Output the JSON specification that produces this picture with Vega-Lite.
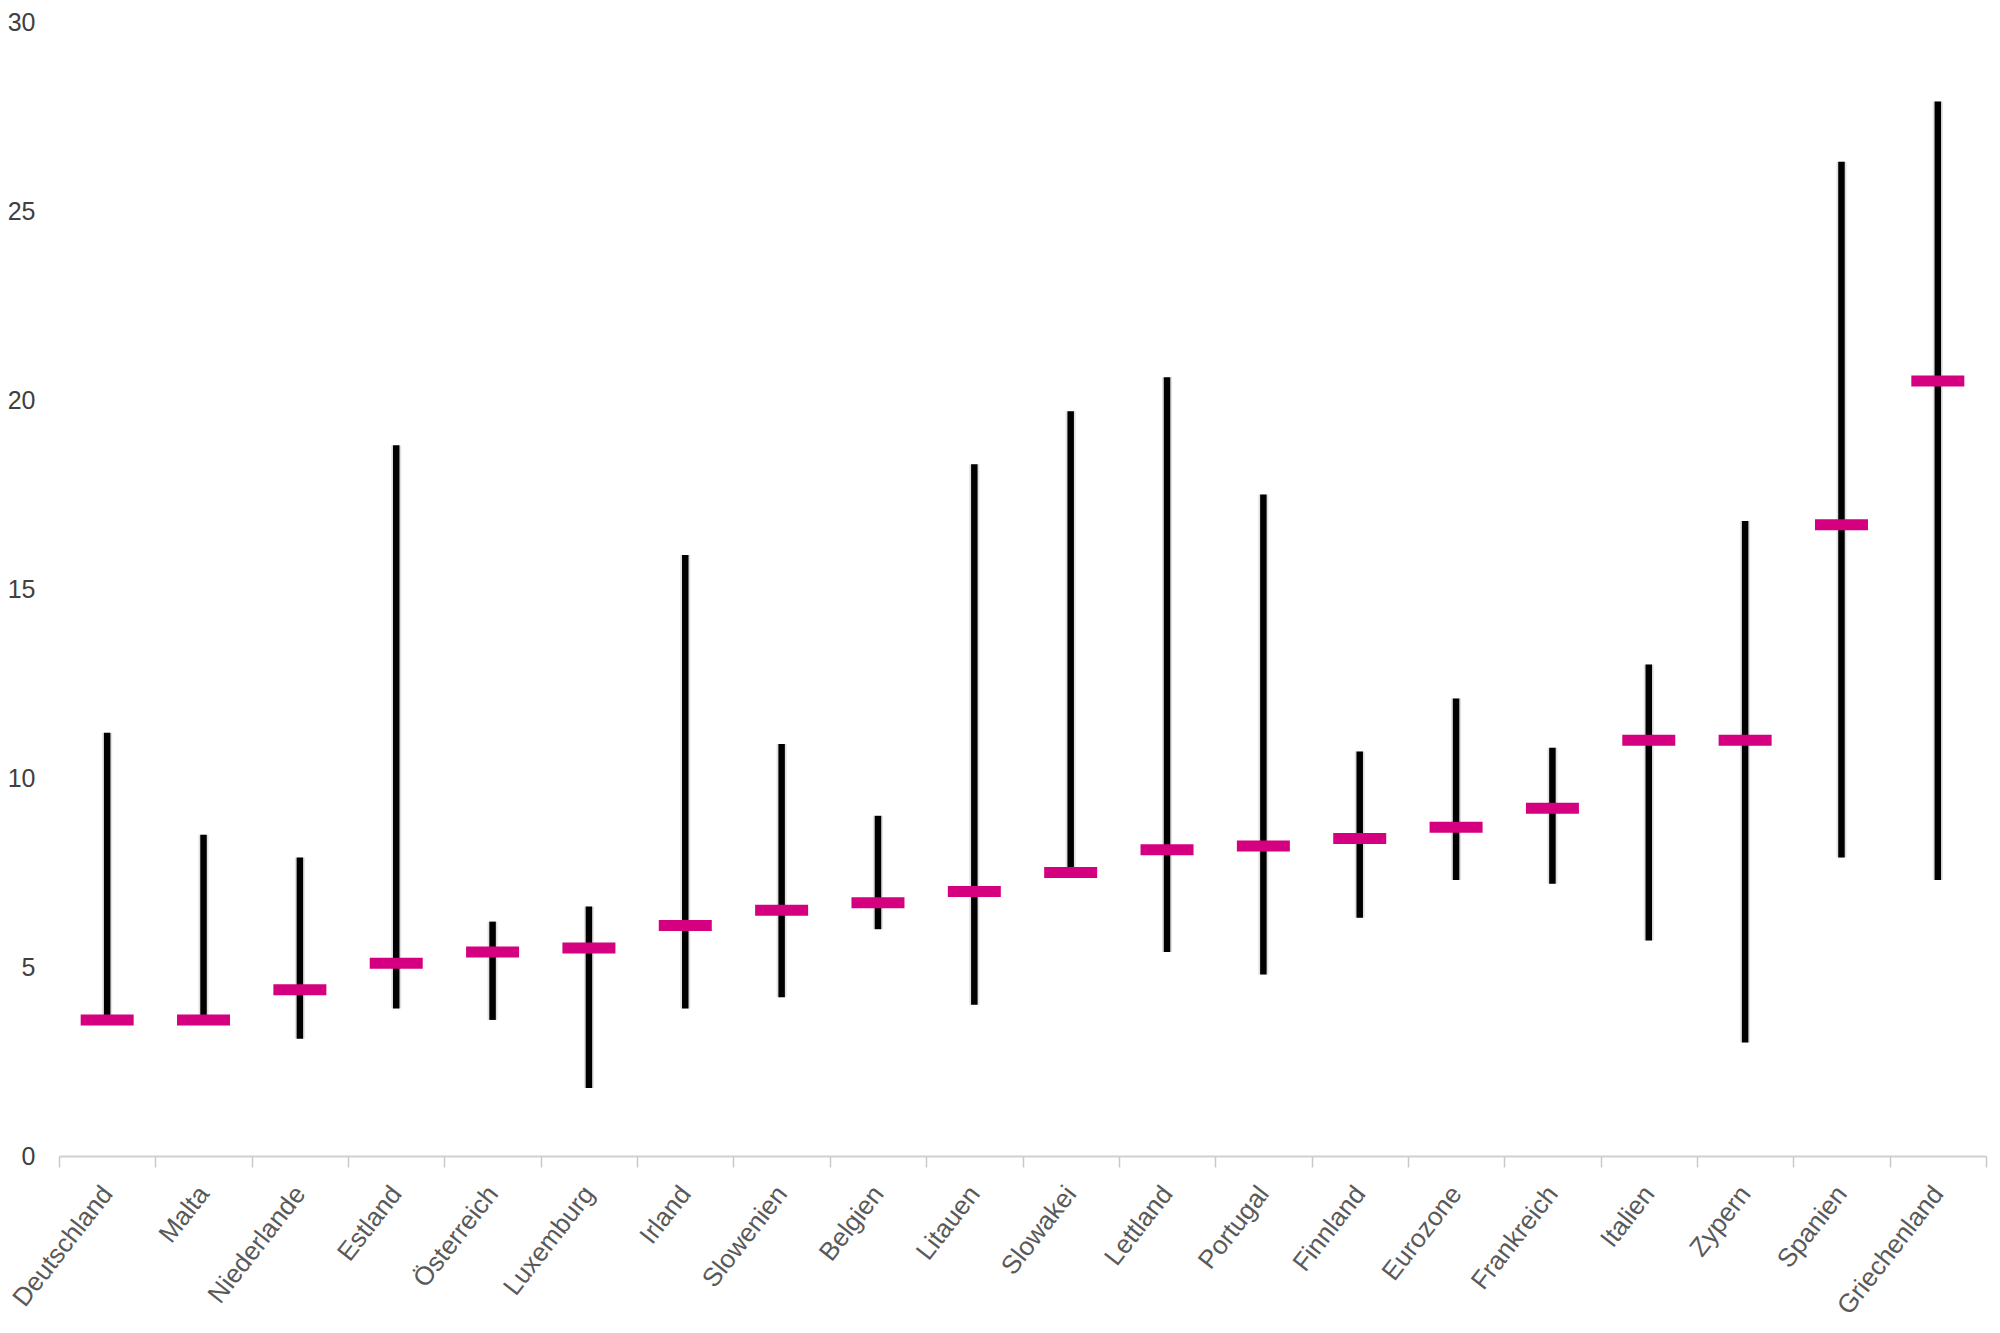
{
  "$schema": "https://vega.github.io/schema/vega-lite/v6.json",
  "autosize": {"type": "none"},
  "padding": {"left": 59, "top": 22, "right": 14, "bottom": 177},
  "width": 1927,
  "height": 1134,
  "background": "white",
  "config": {
    "view": {"stroke": null},
    "font": "Liberation Sans"
  },
  "data": {
    "values": [
      {"land": "Deutschland", "min": 3.6, "mittel": 3.6, "max": 11.2},
      {"land": "Malta", "min": 3.6, "mittel": 3.6, "max": 8.5},
      {"land": "Niederlande", "min": 3.1, "mittel": 4.4, "max": 7.9},
      {"land": "Estland", "min": 3.9, "mittel": 5.1, "max": 18.8},
      {"land": "Österreich", "min": 3.6, "mittel": 5.4, "max": 6.2},
      {"land": "Luxemburg", "min": 1.8, "mittel": 5.5, "max": 6.6},
      {"land": "Irland", "min": 3.9, "mittel": 6.1, "max": 15.9},
      {"land": "Slowenien", "min": 4.2, "mittel": 6.5, "max": 10.9},
      {"land": "Belgien", "min": 6.0, "mittel": 6.7, "max": 9.0},
      {"land": "Litauen", "min": 4.0, "mittel": 7.0, "max": 18.3},
      {"land": "Slowakei", "min": 7.5, "mittel": 7.5, "max": 19.7},
      {"land": "Lettland", "min": 5.4, "mittel": 8.1, "max": 20.6},
      {"land": "Portugal", "min": 4.8, "mittel": 8.2, "max": 17.5},
      {"land": "Finnland", "min": 6.3, "mittel": 8.4, "max": 10.7},
      {"land": "Eurozone", "min": 7.3, "mittel": 8.7, "max": 12.1},
      {"land": "Frankreich", "min": 7.2, "mittel": 9.2, "max": 10.8},
      {"land": "Italien", "min": 5.7, "mittel": 11.0, "max": 13.0},
      {"land": "Zypern", "min": 3.0, "mittel": 11.0, "max": 16.8},
      {"land": "Spanien", "min": 7.9, "mittel": 16.7, "max": 26.3},
      {"land": "Griechenland", "min": 7.3, "mittel": 20.5, "max": 27.9}
    ]
  },
  "encoding": {
    "x": {
      "field": "land",
      "type": "nominal",
      "sort": null,
      "scale": {"paddingInner": 0, "paddingOuter": 0},
      "axis": {
        "title": null,
        "tickBand": "extent",
        "domainColor": "#d0d0d0",
        "domainWidth": 2,
        "tickColor": "#c8c8c8",
        "tickWidth": 1.5,
        "tickSize": 11,
        "labelAngle": -52,
        "labelAlign": "right",
        "labelBaseline": "middle",
        "labelPadding": 22,
        "labelFontSize": 26,
        "labelColor": "#595959",
        "labelFont": "Liberation Sans"
      }
    }
  },
  "layer": [
    {
      "mark": {"type": "rule", "strokeWidth": 10, "color": "#9a9a9a", "opacity": 0.3},
      "encoding": {
        "y": {"field": "min", "type": "quantitative"},
        "y2": {"field": "max"}
      }
    },
    {
      "mark": {"type": "rule", "strokeWidth": 6.5, "color": "#000000"},
      "encoding": {
        "y": {
          "field": "min",
          "type": "quantitative",
          "scale": {"domain": [0, 30], "nice": false},
          "axis": {
            "title": null,
            "values": [0, 5, 10, 15, 20, 25, 30],
            "domain": false,
            "ticks": false,
            "grid": false,
            "labelPadding": 24,
            "labelFontSize": 25,
            "labelColor": "#404040",
            "labelFont": "Liberation Sans"
          }
        },
        "y2": {"field": "max"}
      }
    },
    {
      "mark": {"type": "tick", "color": "#D4007F", "size": 53, "thickness": 11, "opacity": 1},
      "encoding": {
        "y": {"field": "mittel", "type": "quantitative"}
      }
    }
  ]
}
